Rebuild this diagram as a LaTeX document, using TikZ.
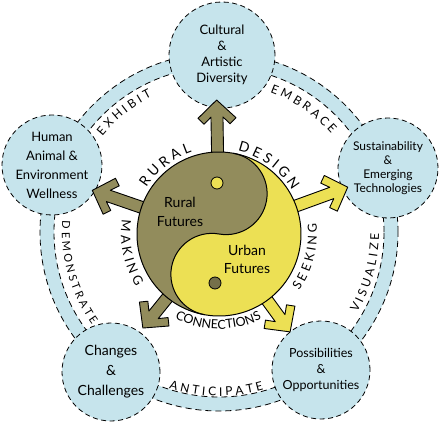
\documentclass[tikz,border=0pt]{standalone}
\usepackage{fontspec}
\setmainfont{Lato}
\usetikzlibrary{calc,decorations.text}
\definecolor{skyfill}{RGB}{198,228,236}
\definecolor{ruralolive}{RGB}{146,140,92}
\definecolor{urbanyellow}{RGB}{236,224,84}
\newcommand{\ringfont}{\fontsize{12}{12}\selectfont}
\newcommand{\hubfont}{\fontsize{14}{14}\selectfont}
% text set along an arc: centre, radius, start angle, end angle, text
\newcommand{\arclabel}[5]{
  \path[decorate,decoration={text along path,text align=center,text={#5}}]
    ($(#1)+(#3:#2pt)$) arc[start angle=#3,end angle=#4,radius=#2pt];
}
% fat arrow out of the hub: angle, length, colour
\newcommand{\fatarrow}[3]{
  \begin{scope}[shift={(hub.center)},rotate=#1]
    \filldraw[fill=#3,line width=0.9pt,line join=round]
      (0,6) -- ({#2-17},6) -- ({#2-24},13) -- ({#2-18},19) -- (#2,0)
      -- ({#2-18},-19) -- ({#2-24},-13) -- ({#2-17},-6) -- (0,-6) -- cycle;
  \end{scope}
}

\begin{document}
\begin{tikzpicture}[x=1pt,y=1pt]
\tikzstyle{topic}=[circle,draw,dash pattern=on 5pt off 3.5pt,line width=0.8pt,fill=skyfill,align=center,inner sep=0pt]
\tikzstyle{band}=[dash pattern=on 6pt off 4pt,line width=0.8pt]
\useasboundingbox (0,0) rectangle (440,424);
\coordinate (ring) at (219,192);
\fill[skyfill,even odd rule] (ring) circle (179pt) (ring) circle (165pt);
\draw[band] (ring) circle (179pt);
\draw[band] (ring) circle (165pt);

\node[topic,minimum size=106pt,font=\fontsize{13}{16}\selectfont] (diversity) at (222,369) {Cultural\\\&\\Artistic\\Diversity};
\node[topic,minimum size=100pt,font=\fontsize{13}{19}\selectfont] (wellness) at (52,259) {Human\\Animal \&\\Environment\\Wellness};
\node[topic,minimum size=100pt,font=\fontsize{12}{14}\selectfont] (sustain) at (388,256) {Sustainability\\\&\\Emerging\\Technologies};
\node[topic,minimum size=98pt,font=\fontsize{14}{20}\selectfont] (changes) at (111,52) {Changes\\\&\\Challenges};
\node[topic,minimum size=98pt,font=\fontsize{12.5}{16}\selectfont] (possible) at (321,54) {Possibilities\\\&\\Opportunities};

\node[circle,minimum size=164pt,inner sep=0pt] (hub) at (219,190) {};
\fatarrow{91}{134}{ruralolive}
\fatarrow{161}{134}{ruralolive}
\fatarrow{20}{137}{urbanyellow}
\fatarrow{231}{121}{ruralolive}
\fatarrow{306}{121}{urbanyellow}

\begin{scope}[shift={(hub.center)},rotate=-10]
  \fill[urbanyellow] (0,0) circle (82pt);
  \fill[ruralolive] (0,82) arc[start angle=90,end angle=270,radius=82pt]
    arc[start angle=-90,end angle=-270,radius=41pt]
    arc[start angle=-90,end angle=90,radius=41pt] -- cycle;
  \draw[line width=1pt] (0,82) arc[start angle=90,end angle=-90,radius=41pt]
    arc[start angle=90,end angle=270,radius=41pt];
  \draw[line width=1pt] (0,0) circle (82pt);
\end{scope}
\filldraw[fill=urbanyellow,line width=0.8pt] ($(hub)+(-2,51)$) circle (6pt);
\filldraw[fill=ruralolive!80!black,line width=0.8pt] ($(hub)+(-4,-49)$) circle (6pt);

\node[align=center,font=\fontsize{14}{19}\selectfont] (ruraltext) at (180,212) {Rural\\Futures};
\node[align=center,font=\fontsize{14}{18}\selectfont] (urbantext) at (247,165) {Urban\\Futures};

% words round the hub
\arclabel{hub}{86}{168}{88}{|\hubfont|R U R A L}
\arclabel{hub}{85}{94}{14}{|\hubfont|D E S I G N}
\arclabel{hub}{98}{-55}{26}{|\fontsize{12.5}{12.5}\selectfont|S E E K I N G}
\arclabel{hub}{98}{152}{232}{|\fontsize{13}{13}\selectfont|M A K I N G}
\arclabel{hub}{95}{-140}{-41}{|\fontsize{12.5}{12.5}\selectfont|CONNECTIONS}

% words on the ring
\arclabel{ring}{151}{158}{99}{|\ringfont|E X H I B I T}
\arclabel{ring}{149}{85}{26}{|\ringfont|E M B R A C E}
\arclabel{ring}{160}{-45}{14}{|\ringfont|V I S U A L I Z E}
\arclabel{ring}{157}{166}{226}{|\fontsize{11}{11}\selectfont|D E M O N S T R A T E}
\arclabel{ring}{164}{-121}{-61}{|\ringfont|A N T I C I P A T E}
\end{tikzpicture}
\end{document}
